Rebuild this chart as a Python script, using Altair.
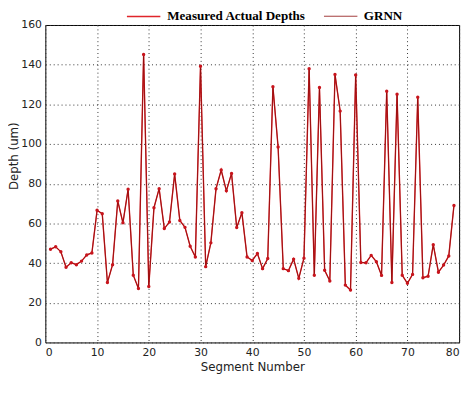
import altair as alt
import pandas as pd

segments = list(range(1, 80))
measured = [47.0, 48.2, 45.7, 37.9, 40.2, 39.2, 41.0, 44.1, 45.1, 66.6,
            64.9, 30.2, 39.2, 71.3, 60.3, 77.2, 33.9, 27.2, 145.1, 28.2,
            67.9, 77.5, 57.4, 60.7, 84.9, 61.5, 58.0, 48.5, 43.1, 139.2,
            38.2, 50.2, 77.5, 86.9, 76.4, 85.2, 57.9, 65.4, 43.1, 41.3,
            44.8, 37.2, 42.3, 128.9, 98.5, 37.2, 36.2, 42.0, 32.3, 42.5,
            138.0, 33.9, 128.5, 36.4, 31.0, 135.1, 116.6, 28.9, 26.4, 134.8,
            40.3, 40.2, 43.9, 40.7, 33.8, 126.6, 30.2, 125.1, 33.9, 29.8,
            34.3, 123.6, 32.6, 33.4, 49.3, 35.4, 39.0, 43.6, 69.0]
grnn = [47.0, 48.2, 45.7, 37.9, 40.2, 39.2, 41.0, 44.1, 45.1, 66.6,
        64.9, 30.2, 39.2, 71.3, 60.3, 77.2, 33.9, 27.2, 145.1, 28.2,
        67.9, 77.5, 57.4, 60.7, 84.9, 61.5, 58.0, 48.5, 43.1, 139.2,
        38.2, 50.2, 77.5, 86.9, 76.4, 85.2, 57.9, 65.4, 43.1, 41.3,
        44.8, 37.2, 42.3, 128.9, 98.5, 37.2, 36.2, 42.0, 32.3, 42.5,
        138.0, 33.9, 128.5, 36.4, 31.0, 135.1, 116.6, 28.9, 26.4, 134.8,
        40.3, 40.2, 43.9, 40.7, 33.8, 126.6, 30.2, 125.1, 33.9, 29.8,
        34.3, 123.6, 32.6, 33.4, 49.3, 35.4, 39.0, 43.6, 69.0]
series_names = ["Measured Actual Depths", "GRNN"]
series_colors = ["#e0252b", "#8b0a0a"]
series_widths = [1.4, 0.8]
x_ticks = [0, 10, 20, 30, 40, 50, 60, 70, 80]
y_ticks = [0, 20, 40, 60, 80, 100, 120, 140, 160]

df = pd.concat([
    pd.DataFrame({"segment": segments, "depth": measured, "series": series_names[0]}),
    pd.DataFrame({"segment": segments, "depth": grnn, "series": series_names[1]}),
])
df_meas = pd.DataFrame({"segment": segments, "depth": measured})

axis_common = dict(
    labelFont="DejaVu Sans", titleFont="DejaVu Sans",
    labelFontSize=11, titleFontSize=12, titleFontWeight="normal",
    labelColor="#222", titleColor="#222",
    grid=True, gridColor="#333", gridDash=[1, 3], gridOpacity=1, gridWidth=1,
    ticks=False, labelPadding=4, domain=False,
)

x_enc = alt.X("segment:Q", scale=alt.Scale(domain=[0, 80], nice=False),
              axis=alt.Axis(values=x_ticks, title="Segment Number", titlePadding=5,
                            **axis_common))
y_enc = alt.Y("depth:Q", scale=alt.Scale(domain=[0, 160], nice=False),
              axis=alt.Axis(values=y_ticks, title="Depth (um)", titleX=-28, titleY=133,
                            titleAngle=270, titleBaseline="alphabetic", titleAlign="center",
                            **axis_common))

lines = alt.Chart(df).mark_line().encode(
    x=x_enc, y=y_enc,
    color=alt.Color("series:N",
                    scale=alt.Scale(domain=series_names, range=series_colors),
                    legend=alt.Legend(title=None, orient="none", legendX=82, legendY=-27,
                                      direction="horizontal", symbolType="stroke",
                                      symbolSize=1156, symbolStrokeWidth=1,
                                      labelFont="Liberation Serif", labelFontWeight="bold",
                                      labelFontSize=13.3, labelColor="black",
                                      labelLimit=300, columnPadding=16, labelOffset=6)),
    strokeWidth=alt.StrokeWidth("series:N",
                                scale=alt.Scale(domain=series_names, range=series_widths),
                                legend=None),
    order=alt.Order("segment:Q"),
)

points = alt.Chart(df_meas).mark_point(filled=True, size=12, color="#c8141c", opacity=1).encode(
    x="segment:Q", y="depth:Q"
)

chart = alt.layer(lines, points).properties(
    width=421, height=323,
    autosize=alt.AutoSizeParams(type="none"),
    padding={"left": 38, "top": 14, "right": 7, "bottom": 40},
    background="white",
).configure_view(
    stroke="black", strokeWidth=1
)

chart.save("out.html", embed_options={"renderer": "svg", "actions": False})
